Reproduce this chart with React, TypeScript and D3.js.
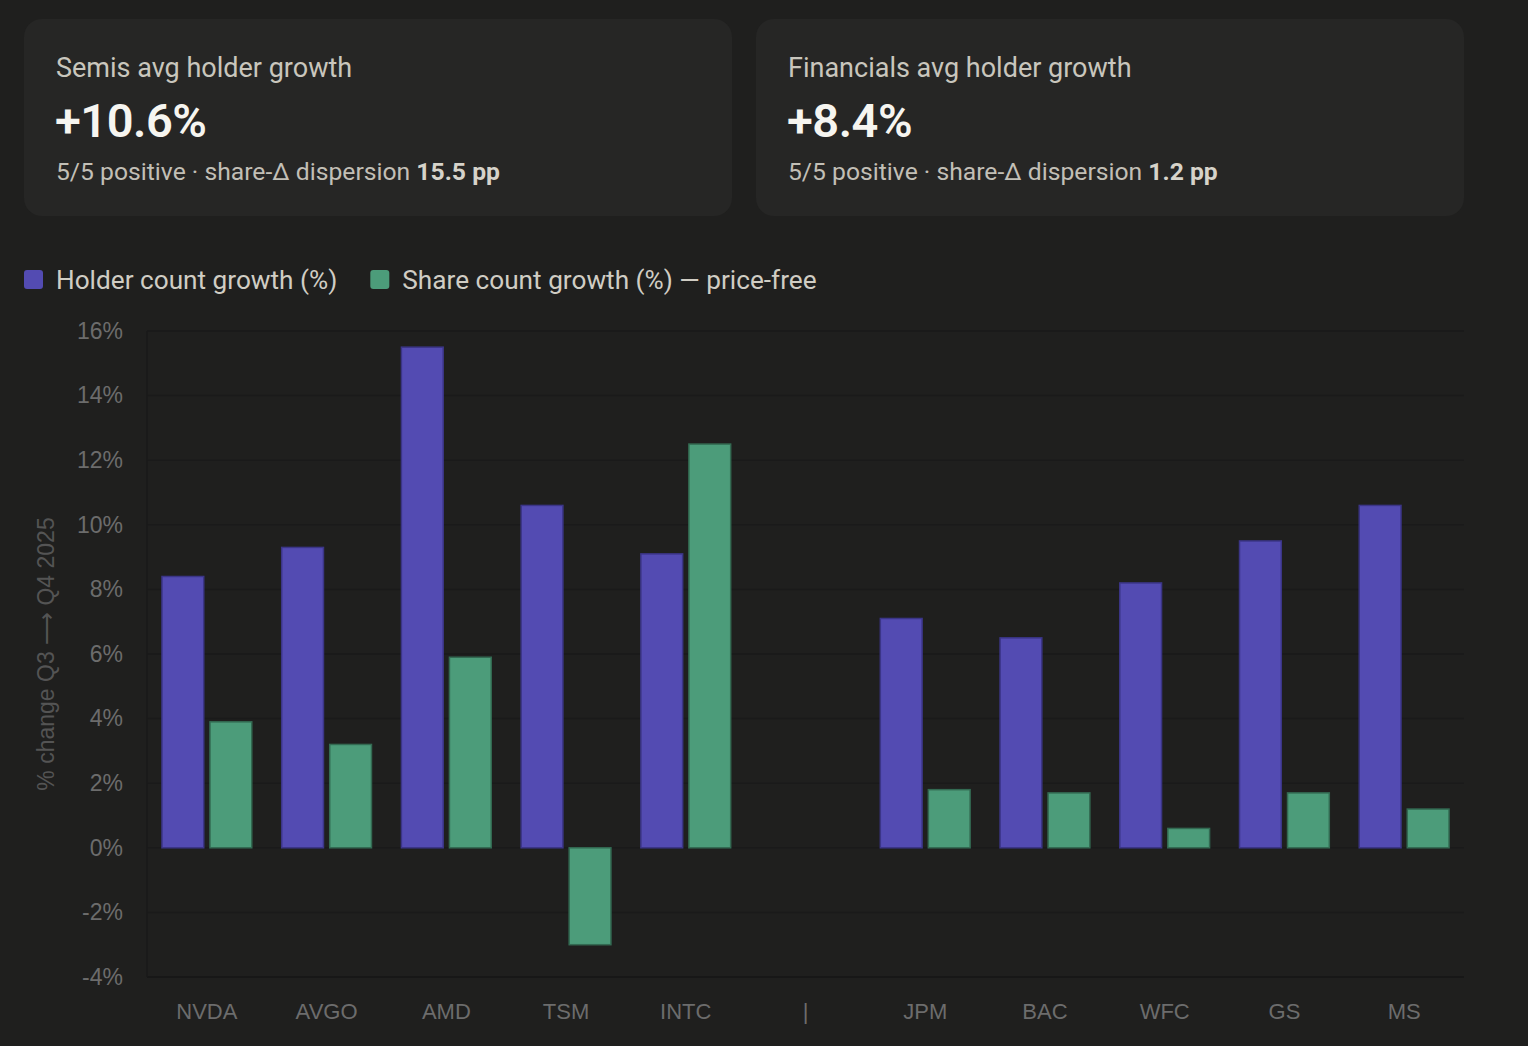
import React, { useEffect, useRef } from "react";
import * as d3 from "d3";

// tickers, with a "|" spacer between the two sectors
const categories = ["NVDA", "AVGO", "AMD", "TSM", "INTC", "|", "JPM", "BAC", "WFC", "GS", "MS"];
const holderGrowth = [8.4, 9.3, 15.5, 10.6, 9.1, null, 7.1, 6.5, 8.2, 9.5, 10.6];
const shareGrowth = [3.9, 3.2, 5.9, -3.0, 12.5, null, 1.8, 1.7, 0.6, 1.7, 1.2];
const yTicks = [-4, -2, 0, 2, 4, 6, 8, 10, 12, 14, 16];

const cards = [
  { title: "Semis avg holder growth", value: "+10.6%", note: "5/5 positive · share-Δ dispersion ", strong: "15.5 pp" },
  { title: "Financials avg holder growth", value: "+8.4%", note: "5/5 positive · share-Δ dispersion ", strong: "1.2 pp" },
];

const seriesNames = ["Holder count growth (%)", "Share count growth (%) — price-free"];
const fills = ["#534bb2", "#4c9c7a"];
const strokes = ["#3b3587", "#336a52"];

const UI_FONT = "Roboto, 'Noto Sans', sans-serif";
const AXIS_FONT = "'Liberation Sans', Arial, sans-serif";

export default function App() {
  const ref = useRef<SVGSVGElement | null>(null);

  useEffect(() => {
    if (!ref.current) return;
    const svg = d3.select(ref.current);
    svg.selectAll("*").remove();

    // stat cards
    const card = svg
      .selectAll("g.card")
      .data(cards)
      .enter()
      .append("g")
      .attr("class", "card")
      .attr("transform", (d, i) => `translate(${24 + i * 732},19)`);

    card.append("rect").attr("width", 708).attr("height", 197).attr("rx", 18).attr("fill", "#262625");

    card
      .append("text")
      .attr("x", 32)
      .attr("y", 58)
      .attr("fill", "#c9c6bd")
      .style("font", `400 27px ${UI_FONT}`)
      .text((d) => d.title);

    card
      .append("text")
      .attr("x", 31)
      .attr("y", 118)
      .attr("fill", "#f6f5f0")
      .style("font", `600 47px ${UI_FONT}`)
      .style("letter-spacing", "-0.5px")
      .text((d) => d.value);

    const note = card
      .append("text")
      .attr("x", 32)
      .attr("y", 161)
      .attr("fill", "#c2bfb6")
      .style("font", `400 24.7px ${UI_FONT}`);
    note.append("tspan").text((d) => d.note);
    note
      .append("tspan")
      .attr("font-weight", 700)
      .attr("fill", "#d6d3ca")
      .text((d) => d.strong);

    // legend
    let lx = 24;
    seriesNames.forEach((name, i) => {
      svg
        .append("rect")
        .attr("x", lx)
        .attr("y", 270)
        .attr("width", 19)
        .attr("height", 19)
        .attr("rx", 3)
        .attr("fill", fills[i]);
      const t = svg
        .append("text")
        .attr("x", lx + 32)
        .attr("y", 289)
        .attr("fill", "#d0cdc4")
        .style("font", `400 26.2px ${UI_FONT}`)
        .text(name);
      const w = (t.node() as SVGTextElement).getComputedTextLength();
      lx = lx + 32 + w + 33;
    });

    // scales
    const left = 147;
    const right = 1464;
    const top = 331;
    const bottom = 977;

    const y = d3.scaleLinear([-4, 16], [bottom, top]);
    const x0 = d3.scaleBand(categories, [left, right]).paddingInner(0.25).paddingOuter(0.125);
    const x1 = d3.scaleBand(["holder", "share"], [0, x0.bandwidth()]).paddingInner(0.13);

    // grid
    svg
      .append("g")
      .selectAll("line")
      .data(yTicks)
      .enter()
      .append("line")
      .attr("x1", left)
      .attr("x2", right)
      .attr("y1", (d) => y(d))
      .attr("y2", (d) => y(d))
      .attr("stroke", (d) => (d === -4 ? "#171717" : "#1a1a1a"))
      .attr("stroke-width", (d) => (d === -4 ? 2 : 1.5));

    svg
      .append("line")
      .attr("x1", left)
      .attr("x2", left)
      .attr("y1", top)
      .attr("y2", bottom)
      .attr("stroke", "#1a1a1a")
      .attr("stroke-width", 1.5);

    // y axis
    const yAxis = d3
      .axisLeft(y)
      .tickValues(yTicks)
      .tickSize(0)
      .tickPadding(24)
      .tickFormat((d) => `${d}%`);
    const gy = svg.append("g").attr("transform", `translate(${left},0)`).call(yAxis);
    gy.select(".domain").remove();
    gy.selectAll("text").attr("fill", "#6c6c6c").style("font", `400 23px ${AXIS_FONT}`);

    svg
      .append("text")
      .attr("transform", `translate(54,${(top + bottom) / 2}) rotate(-90)`)
      .attr("text-anchor", "middle")
      .attr("fill", "#545454")
      .style("font", `400 23px ${AXIS_FONT}`)
      .text("% change Q3 ⟶ Q4 2025");

    // x axis
    const xAxis = d3.axisBottom(x0).tickSize(0);
    const gx = svg.append("g").attr("transform", `translate(0,${bottom})`).call(xAxis);
    gx.select(".domain").remove();
    gx.selectAll("text")
      .attr("y", 42)
      .attr("dy", 0)
      .attr("fill", "#6c6c6c")
      .style("font", `400 22px ${AXIS_FONT}`);

    // bars
    const rows = categories.map((c, i) => ({ c, holder: holderGrowth[i], share: shareGrowth[i] }));
    const groups = svg
      .append("g")
      .selectAll("g")
      .data(rows)
      .enter()
      .append("g")
      .attr("transform", (d) => `translate(${x0(d.c)},0)`);

    (["holder", "share"] as const).forEach((key, k) => {
      groups
        .filter((d) => d[key] !== null)
        .append("rect")
        .attr("x", x1(key)!)
        .attr("width", x1.bandwidth())
        .attr("y", (d) => y(Math.max(0, d[key] as number)))
        .attr("height", (d) => Math.abs(y(d[key] as number) - y(0)))
        .attr("fill", fills[k])
        .attr("stroke", strokes[k])
        .attr("stroke-width", 1.5);
    });
  });

  return (
    <div style={{ position: "fixed", inset: 0, background: "#1f1f1e" }}>
      <svg ref={ref} width={1528} height={1046} style={{ display: "block" }} />
    </div>
  );
}
